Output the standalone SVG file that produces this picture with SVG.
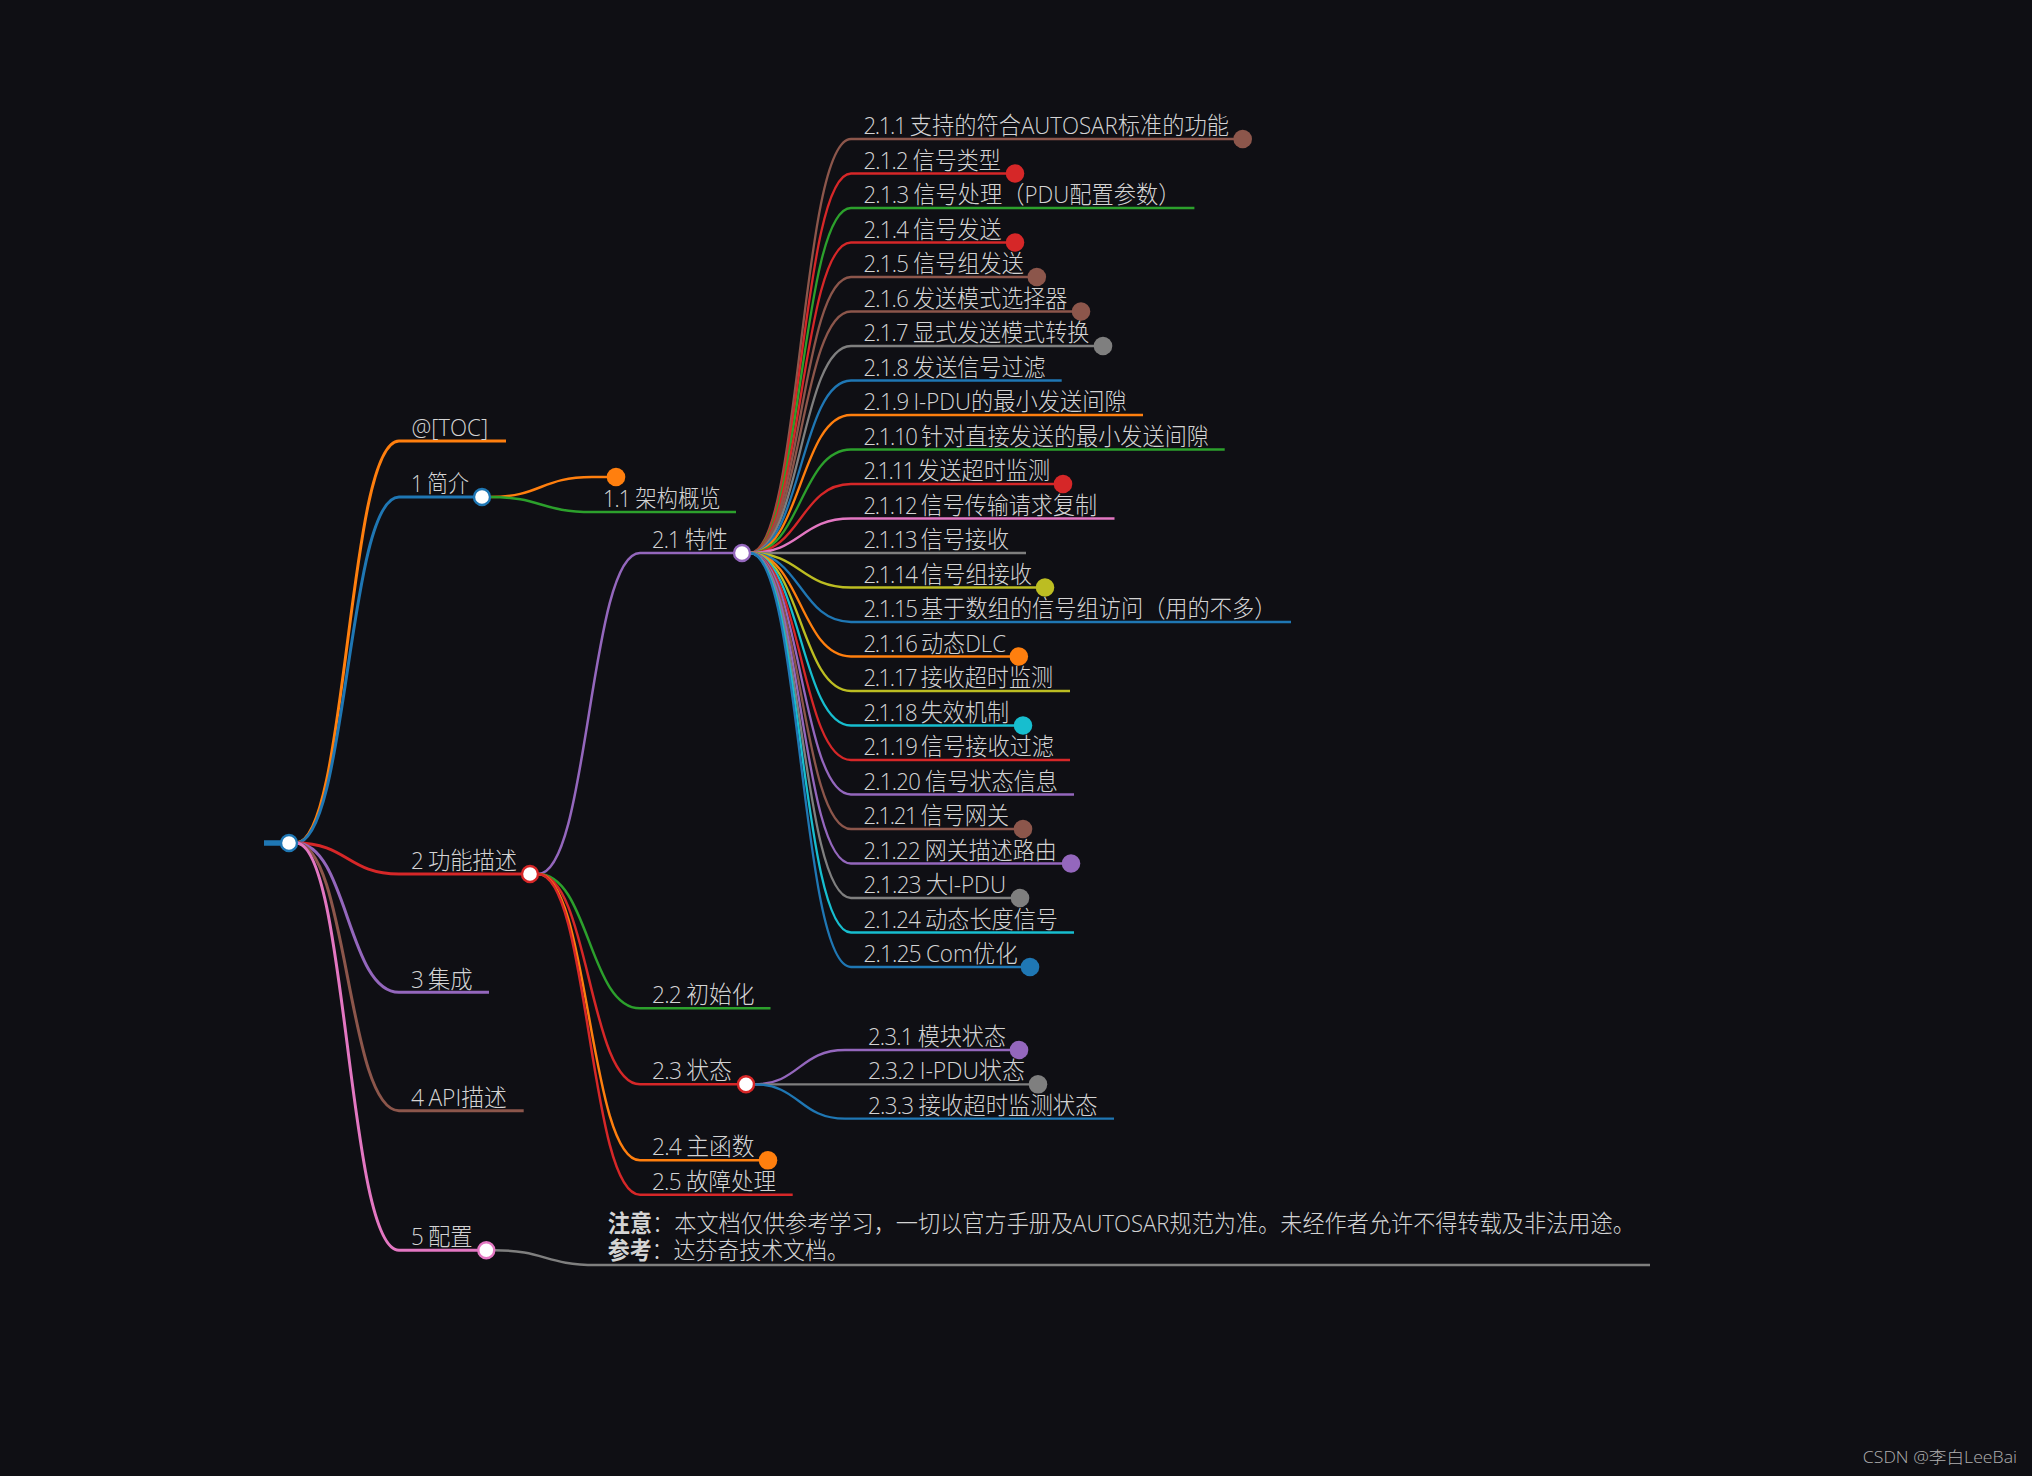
<svg xmlns="http://www.w3.org/2000/svg" width="2032" height="1476" viewBox="0 0 2032 1476">
<style>
text{font-family:"Open Sans","Noto Sans CJK SC","Noto Sans",sans-serif;font-weight:300;font-size:24px;fill:#d4d4d4}
.n{letter-spacing:-.8px}
.p{letter-spacing:-1.45px}
.q{letter-spacing:-2px}
.b{font-weight:700}
.wm{font-size:16px;fill:#b0b0b0}
path{fill:none;stroke-linecap:butt}
.l1{stroke-width:3}.l2{stroke-width:2.5}.l3{stroke-width:2.3}
.blue{stroke:#1f77b4}.orange{stroke:#ff7f0e}.green{stroke:#2ca02c}.red{stroke:#d62728}.purple{stroke:#9467bd}.brown{stroke:#8c564b}.pink{stroke:#e377c2}.gray{stroke:#7f7f7f}.olive{stroke:#bcbd22}.cyan{stroke:#17becf}
circle{stroke-width:2.4;fill:#fff}
circle.dot{stroke-width:0;r:9.3px}
circle.dot.blue{fill:#1f77b4}circle.dot.orange{fill:#ff7f0e}circle.dot.red{fill:#d62728}circle.dot.purple{fill:#9467bd}circle.dot.brown{fill:#8c564b}circle.dot.gray{fill:#7f7f7f}circle.dot.olive{fill:#bcbd22}circle.dot.cyan{fill:#17becf}
</style>
<rect width="2032" height="1476" fill="#0f0f14"/>
<g id="connectors">
<path class="l1 orange" d="M296 843C347.500 843 347.500 441 399 441"/>
<path class="l1 blue" d="M296 843C347.500 843 347.500 497 399 497"/>
<path class="l1 red" d="M296 843C347.500 843 347.500 874 399 874"/>
<path class="l1 purple" d="M296 843C347.500 843 347.500 992.300 399 992.300"/>
<path class="l1 brown" d="M296 843C347.500 843 347.500 1110.700 399 1110.700"/>
<path class="l1 pink" d="M296 843C347.500 843 347.500 1250.300 399 1250.300"/>
<path class="l2 orange" d="M490 497C541 497 541 477 592 477"/>
<path class="l2 green" d="M490 497C541 497 541 512 592 512"/>
<path class="l2 purple" d="M538 874C589 874 589 553 640 553"/>
<path class="l2 green" d="M538 874C589 874 589 1008.300 640 1008.300"/>
<path class="l2 red" d="M538 874C589 874 589 1084.300 640 1084.300"/>
<path class="l2 orange" d="M538 874C589 874 589 1160.300 640 1160.300"/>
<path class="l2 red" d="M538 874C589 874 589 1194.700 640 1194.700"/>
<path class="l2 gray" d="M494 1250.300C545 1250.300 545 1265 596 1265"/>
<path class="l3 brown" d="M750 553C800.500 553 800.500 139 851 139"/>
<path class="l3 red" d="M750 553C800.500 553 800.500 173.500 851 173.500"/>
<path class="l3 green" d="M750 553C800.500 553 800.500 208 851 208"/>
<path class="l3 red" d="M750 553C800.500 553 800.500 242.500 851 242.500"/>
<path class="l3 brown" d="M750 553C800.500 553 800.500 277 851 277"/>
<path class="l3 brown" d="M750 553C800.500 553 800.500 311.500 851 311.500"/>
<path class="l3 gray" d="M750 553C800.500 553 800.500 346 851 346"/>
<path class="l3 blue" d="M750 553C800.500 553 800.500 380.500 851 380.500"/>
<path class="l3 orange" d="M750 553C800.500 553 800.500 415 851 415"/>
<path class="l3 green" d="M750 553C800.500 553 800.500 449.500 851 449.500"/>
<path class="l3 red" d="M750 553C800.500 553 800.500 484 851 484"/>
<path class="l3 pink" d="M750 553C800.500 553 800.500 518.500 851 518.500"/>
<path class="l3 gray" d="M750 553H851"/>
<path class="l3 olive" d="M750 553C800.500 553 800.500 587.500 851 587.500"/>
<path class="l3 blue" d="M750 553C800.500 553 800.500 622 851 622"/>
<path class="l3 orange" d="M750 553C800.500 553 800.500 656.500 851 656.500"/>
<path class="l3 olive" d="M750 553C800.500 553 800.500 691 851 691"/>
<path class="l3 cyan" d="M750 553C800.500 553 800.500 725.500 851 725.500"/>
<path class="l3 red" d="M750 553C800.500 553 800.500 760 851 760"/>
<path class="l3 purple" d="M750 553C800.500 553 800.500 794.500 851 794.500"/>
<path class="l3 brown" d="M750 553C800.500 553 800.500 829 851 829"/>
<path class="l3 purple" d="M750 553C800.500 553 800.500 863.500 851 863.500"/>
<path class="l3 gray" d="M750 553C800.500 553 800.500 898 851 898"/>
<path class="l3 cyan" d="M750 553C800.500 553 800.500 932.500 851 932.500"/>
<path class="l3 blue" d="M750 553C800.500 553 800.500 967 851 967"/>
<path class="l3 purple" d="M754 1084.300C799.500 1084.300 799.500 1050 845 1050"/>
<path class="l3 gray" d="M754 1084.300H845"/>
<path class="l3 blue" d="M754 1084.300C799.500 1084.300 799.500 1118.700 845 1118.700"/>
</g>
<g id="root"><path class="blue" stroke-width="5.500" d="M264 843H289"/><circle class="blue" cx="289" cy="843" r="8"/></g>
<g id="n-toc"><path class="l1 orange" d="M399 441H506"/><text x="411.500" y="436" textLength="76.500" lengthAdjust="spacingAndGlyphs">@[TOC]</text></g>
<g id="n-1"><path class="l1 blue" d="M399 497H482"/><text x="411" y="492" textLength="58" lengthAdjust="spacingAndGlyphs"><tspan class="n">1 </tspan>简介</text><circle class="blue" cx="482" cy="497" r="8"/></g>
<g id="n-1-0"><path class="l2 orange" d="M592 477H616"/><circle class="dot orange" cx="616" cy="477"/></g>
<g id="n-1-1"><path class="l2 green" d="M592 512H736"/><text x="603" y="507" textLength="117.700" lengthAdjust="spacingAndGlyphs"><tspan class="n">1.1 </tspan>架构概览</text></g>
<g id="n-2"><path class="l1 red" d="M399 874H530"/><text x="411" y="869" textLength="106" lengthAdjust="spacingAndGlyphs"><tspan class="n">2 </tspan>功能描述</text><circle class="red" cx="530" cy="874" r="8"/></g>
<g id="n-2-1"><path class="l2 purple" d="M640 553H742"/><text x="652" y="548" textLength="76" lengthAdjust="spacingAndGlyphs"><tspan class="n">2.1 </tspan>特性</text><circle class="purple" cx="742" cy="553" r="8"/></g>
<g id="n-2-1-1"><path class="l3 brown" d="M851 139H1242.700"/><text x="863.400" y="134" textLength="365.500" lengthAdjust="spacingAndGlyphs"><tspan class="p">2.1.1 </tspan>支持的符合AUTOSAR标准的功能</text><circle class="dot brown" cx="1242.700" cy="139"/></g>
<g id="n-2-1-2"><path class="l3 red" d="M851 173.500H1015"/><text x="863.400" y="168.500" textLength="137.400" lengthAdjust="spacingAndGlyphs"><tspan class="n">2.1.2 </tspan>信号类型</text><circle class="dot red" cx="1015" cy="173.500"/></g>
<g id="n-2-1-3"><path class="l3 green" d="M851 208H1194.400"/><text x="863.400" y="203" textLength="317" lengthAdjust="spacingAndGlyphs"><tspan class="n">2.1.3 </tspan>信号处理（PDU配置参数）</text></g>
<g id="n-2-1-4"><path class="l3 red" d="M851 242.500H1015"/><text x="863.400" y="237.500" textLength="138.200" lengthAdjust="spacingAndGlyphs"><tspan class="n">2.1.4 </tspan>信号发送</text><circle class="dot red" cx="1015" cy="242.500"/></g>
<g id="n-2-1-5"><path class="l3 brown" d="M851 277H1036.800"/><text x="863.400" y="272" textLength="160.400" lengthAdjust="spacingAndGlyphs"><tspan class="n">2.1.5 </tspan>信号组发送</text><circle class="dot brown" cx="1036.800" cy="277"/></g>
<g id="n-2-1-6"><path class="l3 brown" d="M851 311.500H1081"/><text x="863.400" y="306.500" textLength="204" lengthAdjust="spacingAndGlyphs"><tspan class="n">2.1.6 </tspan>发送模式选择器</text><circle class="dot brown" cx="1081" cy="311.500"/></g>
<g id="n-2-1-7"><path class="l3 gray" d="M851 346H1103"/><text x="863.400" y="341" textLength="225.800" lengthAdjust="spacingAndGlyphs"><tspan class="n">2.1.7 </tspan>显式发送模式转换</text><circle class="dot gray" cx="1103" cy="346"/></g>
<g id="n-2-1-8"><path class="l3 blue" d="M851 380.500H1061.700"/><text x="863.400" y="375.500" textLength="182.200" lengthAdjust="spacingAndGlyphs"><tspan class="n">2.1.8 </tspan>发送信号过滤</text></g>
<g id="n-2-1-9"><path class="l3 orange" d="M851 415H1143"/><text x="863.400" y="410" textLength="263.300" lengthAdjust="spacingAndGlyphs"><tspan class="n">2.1.9 </tspan>I-PDU的最小发送间隙</text></g>
<g id="n-2-1-10"><path class="l3 green" d="M851 449.500H1224.700"/><text x="863.400" y="444.500" textLength="345.600" lengthAdjust="spacingAndGlyphs"><tspan class="p">2.1.10 </tspan>针对直接发送的最小发送间隙</text></g>
<g id="n-2-1-11"><path class="l3 red" d="M851 484H1063"/><text x="863.400" y="479" textLength="186.600" lengthAdjust="spacingAndGlyphs"><tspan class="q">2.1.11 </tspan>发送超时监测</text><circle class="dot red" cx="1063" cy="484"/></g>
<g id="n-2-1-12"><path class="l3 pink" d="M851 518.500H1114.500"/><text x="863.400" y="513.500" textLength="233.600" lengthAdjust="spacingAndGlyphs"><tspan class="p">2.1.12 </tspan>信号传输请求复制</text></g>
<g id="n-2-1-13"><path class="l3 gray" d="M851 553H1026"/><text x="863.400" y="548" textLength="145.600" lengthAdjust="spacingAndGlyphs"><tspan class="p">2.1.13 </tspan>信号接收</text></g>
<g id="n-2-1-14"><path class="l3 olive" d="M851 587.500H1045"/><text x="863.400" y="582.500" textLength="168.600" lengthAdjust="spacingAndGlyphs"><tspan class="p">2.1.14 </tspan>信号组接收</text><circle class="dot olive" cx="1045" cy="587.500"/></g>
<g id="n-2-1-15"><path class="l3 blue" d="M851 622H1291"/><text x="863.400" y="617" textLength="413" lengthAdjust="spacingAndGlyphs"><tspan class="p">2.1.15 </tspan>基于数组的信号组访问（用的不多）</text></g>
<g id="n-2-1-16"><path class="l3 orange" d="M851 656.500H1018.800"/><text x="863.400" y="651.500" textLength="142.600" lengthAdjust="spacingAndGlyphs"><tspan class="p">2.1.16 </tspan>动态DLC</text><circle class="dot orange" cx="1018.800" cy="656.500"/></g>
<g id="n-2-1-17"><path class="l3 olive" d="M851 691H1070"/><text x="863.400" y="686" textLength="189.600" lengthAdjust="spacingAndGlyphs"><tspan class="p">2.1.17 </tspan>接收超时监测</text></g>
<g id="n-2-1-18"><path class="l3 cyan" d="M851 725.500H1023"/><text x="863.400" y="720.500" textLength="145.600" lengthAdjust="spacingAndGlyphs"><tspan class="p">2.1.18 </tspan>失效机制</text><circle class="dot cyan" cx="1023" cy="725.500"/></g>
<g id="n-2-1-19"><path class="l3 red" d="M851 760H1070"/><text x="863.400" y="755" textLength="190.600" lengthAdjust="spacingAndGlyphs"><tspan class="p">2.1.19 </tspan>信号接收过滤</text></g>
<g id="n-2-1-20"><path class="l3 purple" d="M851 794.500H1074"/><text x="863.400" y="789.500" textLength="194.600" lengthAdjust="spacingAndGlyphs"><tspan class="n">2.1.20 </tspan>信号状态信息</text></g>
<g id="n-2-1-21"><path class="l3 brown" d="M851 829H1023"/><text x="863.400" y="824" textLength="145.600" lengthAdjust="spacingAndGlyphs"><tspan class="p">2.1.21 </tspan>信号网关</text><circle class="dot brown" cx="1023" cy="829"/></g>
<g id="n-2-1-22"><path class="l3 purple" d="M851 863.500H1071"/><text x="863.400" y="858.500" textLength="193.300" lengthAdjust="spacingAndGlyphs"><tspan class="n">2.1.22 </tspan>网关描述路由</text><circle class="dot purple" cx="1071" cy="863.500"/></g>
<g id="n-2-1-23"><path class="l3 gray" d="M851 898H1020"/><text x="863.400" y="893" textLength="142.600" lengthAdjust="spacingAndGlyphs"><tspan class="n">2.1.23 </tspan>大I-PDU</text><circle class="dot gray" cx="1020" cy="898"/></g>
<g id="n-2-1-24"><path class="l3 cyan" d="M851 932.500H1074"/><text x="863.400" y="927.500" textLength="194.600" lengthAdjust="spacingAndGlyphs"><tspan class="n">2.1.24 </tspan>动态长度信号</text></g>
<g id="n-2-1-25"><path class="l3 blue" d="M851 967H1030"/><text x="863.400" y="962" textLength="154.200" lengthAdjust="spacingAndGlyphs"><tspan class="n">2.1.25 </tspan>Com优化</text><circle class="dot blue" cx="1030" cy="967"/></g>
<g id="n-2-2"><path class="l2 green" d="M640 1008.300H770.500"/><text x="652" y="1003.300" textLength="102.400" lengthAdjust="spacingAndGlyphs"><tspan class="n">2.2 </tspan>初始化</text></g>
<g id="n-2-3"><path class="l2 red" d="M640 1084.300H746"/><text x="652" y="1079.300" textLength="80" lengthAdjust="spacingAndGlyphs"><tspan class="n">2.3 </tspan>状态</text><circle class="red" cx="746" cy="1084.300" r="8"/></g>
<g id="n-2-3-1"><path class="l3 purple" d="M845 1050H1019"/><text x="868" y="1045" textLength="138" lengthAdjust="spacingAndGlyphs"><tspan class="n">2.3.1 </tspan>模块状态</text><circle class="dot purple" cx="1019" cy="1050"/></g>
<g id="n-2-3-2"><path class="l3 gray" d="M845 1084.300H1038"/><text x="868" y="1079.300" textLength="157" lengthAdjust="spacingAndGlyphs"><tspan class="n">2.3.2 </tspan>I-PDU状态</text><circle class="dot gray" cx="1038" cy="1084.300"/></g>
<g id="n-2-3-3"><path class="l3 blue" d="M845 1118.700H1114"/><text x="868" y="1113.700" textLength="229.700" lengthAdjust="spacingAndGlyphs"><tspan class="n">2.3.3 </tspan>接收超时监测状态</text></g>
<g id="n-2-4"><path class="l2 orange" d="M640 1160.300H768"/><text x="652" y="1155.300" textLength="102.400" lengthAdjust="spacingAndGlyphs"><tspan class="n">2.4 </tspan>主函数</text><circle class="dot orange" cx="768" cy="1160.300"/></g>
<g id="n-2-5"><path class="l2 red" d="M640 1194.700H792.700"/><text x="652" y="1189.700" textLength="124" lengthAdjust="spacingAndGlyphs"><tspan class="n">2.5 </tspan>故障处理</text></g>
<g id="n-3"><path class="l1 purple" d="M399 992.300H489"/><text x="411" y="987.800" textLength="61.700" lengthAdjust="spacingAndGlyphs"><tspan class="n">3 </tspan>集成</text></g>
<g id="n-4"><path class="l1 brown" d="M399 1110.700H523.700"/><text x="411" y="1105.700" textLength="95.700" lengthAdjust="spacingAndGlyphs"><tspan class="n">4 </tspan>API描述</text></g>
<g id="n-5"><path class="l1 pink" d="M399 1250.300H486"/><text x="411" y="1245.300" textLength="61.700" lengthAdjust="spacingAndGlyphs"><tspan class="n">5 </tspan>配置</text><circle class="pink" cx="486.300" cy="1250.300" r="8"/></g>
<g id="n-5-1"><path class="l3 gray" d="M596 1265H1650"/><text x="607.800" y="1232.300" textLength="1027" lengthAdjust="spacingAndGlyphs"><tspan class="b">注意</tspan>：本文档仅供参考学习，一切以官方手册及AUTOSAR规范为准。未经作者允许不得转载及非法用途。</text><text x="607.800" y="1259.300" textLength="241" lengthAdjust="spacingAndGlyphs"><tspan class="b">参考</tspan>：达芬奇技术文档。</text></g>
<text class="wm" x="1862.800" y="1462.700" textLength="154.200" lengthAdjust="spacingAndGlyphs">CSDN @李白LeeBai</text>
</svg>
